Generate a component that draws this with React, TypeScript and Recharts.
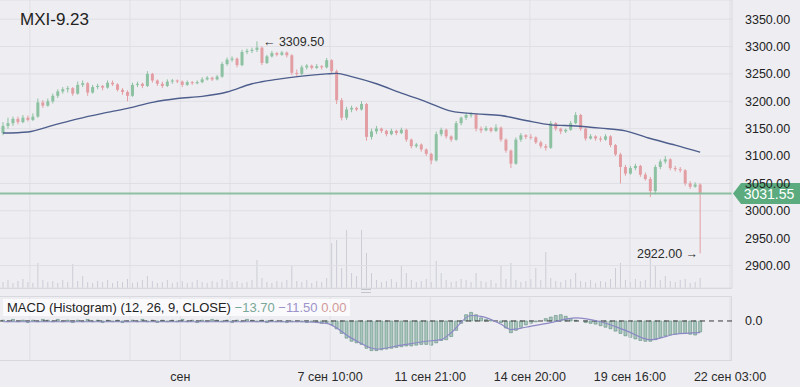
import {
  Bar,
  CartesianGrid,
  ComposedChart,
  Line,
  ReferenceDot,
  ReferenceLine,
  XAxis,
  YAxis,
} from "recharts";

const instrument = "MXI-9.23";

// open, high, low, close per candle
const ohlc: [number, number, number, number][] = [
  [3142, 3162, 3138, 3155], [3155, 3170, 3150, 3160], [3160, 3172, 3155, 3168], [3168, 3172, 3158, 3162], [3162, 3175, 3160, 3170],
  [3170, 3174, 3163, 3166], [3166, 3178, 3164, 3172], [3172, 3205, 3170, 3198], [3198, 3202, 3188, 3192], [3192, 3205, 3190, 3200],
  [3200, 3214, 3196, 3210], [3210, 3222, 3206, 3218], [3218, 3226, 3214, 3222], [3222, 3228, 3216, 3224], [3224, 3226, 3210, 3214],
  [3214, 3236, 3212, 3230], [3230, 3238, 3226, 3233], [3233, 3235, 3210, 3216], [3216, 3230, 3214, 3226], [3226, 3232, 3222, 3228],
  [3228, 3230, 3220, 3225], [3225, 3238, 3223, 3234], [3234, 3238, 3228, 3231], [3231, 3233, 3218, 3221], [3221, 3224, 3212, 3217],
  [3217, 3220, 3200, 3210], [3210, 3234, 3208, 3230], [3230, 3236, 3226, 3232], [3232, 3234, 3224, 3228], [3228, 3255, 3226, 3250],
  [3250, 3252, 3234, 3238], [3238, 3240, 3228, 3232], [3232, 3236, 3224, 3228], [3228, 3240, 3226, 3236], [3236, 3241, 3232, 3238],
  [3238, 3240, 3233, 3236], [3236, 3238, 3226, 3230], [3230, 3238, 3228, 3235], [3235, 3237, 3230, 3233], [3233, 3238, 3231, 3235],
  [3235, 3244, 3233, 3240], [3240, 3246, 3238, 3243], [3243, 3245, 3237, 3240], [3240, 3248, 3238, 3245], [3245, 3272, 3243, 3268],
  [3268, 3280, 3265, 3276], [3276, 3282, 3272, 3278], [3278, 3280, 3262, 3266], [3266, 3294, 3264, 3290], [3290, 3296, 3286, 3292],
  [3292, 3298, 3288, 3294], [3294, 3309.5, 3290, 3298], [3298, 3300, 3266, 3270], [3270, 3285, 3268, 3282], [3282, 3292, 3280, 3288],
  [3288, 3290, 3282, 3285], [3285, 3292, 3283, 3289], [3289, 3291, 3280, 3284], [3284, 3286, 3248, 3252], [3252, 3258, 3246, 3250],
  [3250, 3266, 3248, 3262], [3262, 3268, 3258, 3265], [3265, 3267, 3258, 3261], [3261, 3268, 3259, 3264], [3264, 3266, 3258, 3262],
  [3262, 3279, 3260, 3275], [3275, 3277, 3250, 3255], [3255, 3258, 3195, 3202], [3202, 3206, 3165, 3170], [3170, 3190, 3166, 3185],
  [3185, 3192, 3180, 3188], [3188, 3190, 3182, 3185], [3185, 3200, 3183, 3195], [3195, 3197, 3128, 3135], [3135, 3150, 3130, 3145],
  [3145, 3155, 3140, 3150], [3150, 3152, 3142, 3146], [3146, 3148, 3136, 3140], [3140, 3150, 3138, 3146], [3146, 3148, 3138, 3142],
  [3142, 3152, 3140, 3148], [3148, 3150, 3126, 3130], [3130, 3132, 3114, 3118], [3118, 3124, 3115, 3121], [3121, 3123, 3108, 3112],
  [3112, 3114, 3100, 3104], [3104, 3106, 3085, 3092], [3092, 3145, 3090, 3140], [3140, 3152, 3136, 3148], [3148, 3150, 3132, 3136],
  [3136, 3138, 3126, 3130], [3130, 3164, 3128, 3160], [3160, 3172, 3156, 3170], [3170, 3178, 3166, 3175], [3175, 3180, 3170, 3176],
  [3176, 3178, 3145, 3150], [3150, 3154, 3142, 3147], [3147, 3155, 3145, 3151], [3151, 3153, 3143, 3146], [3146, 3158, 3144, 3152],
  [3152, 3154, 3126, 3130], [3130, 3132, 3106, 3110], [3110, 3112, 3078, 3086], [3086, 3134, 3084, 3130], [3130, 3142, 3126, 3138],
  [3138, 3140, 3131, 3135], [3135, 3140, 3130, 3134], [3134, 3136, 3122, 3125], [3125, 3128, 3114, 3118], [3118, 3122, 3110, 3115],
  [3115, 3164, 3113, 3160], [3160, 3162, 3146, 3150], [3150, 3152, 3140, 3145], [3145, 3150, 3142, 3148], [3148, 3164, 3146, 3160],
  [3160, 3180, 3158, 3175], [3175, 3177, 3146, 3150], [3150, 3152, 3128, 3132], [3132, 3140, 3130, 3136], [3136, 3138, 3128, 3132],
  [3132, 3136, 3126, 3130], [3130, 3140, 3128, 3136], [3136, 3138, 3116, 3120], [3120, 3122, 3100, 3103], [3103, 3106, 3050, 3080],
  [3080, 3084, 3064, 3068], [3068, 3082, 3066, 3078], [3078, 3086, 3074, 3082], [3082, 3084, 3062, 3066], [3066, 3070, 3055, 3058],
  [3058, 3062, 3025, 3036], [3036, 3084, 3030, 3080], [3080, 3094, 3076, 3090], [3090, 3100, 3086, 3094], [3094, 3096, 3074, 3078],
  [3078, 3082, 3072, 3076], [3076, 3080, 3070, 3074], [3074, 3076, 3046, 3050], [3050, 3054, 3040, 3044], [3044, 3052, 3042, 3048],
  [3048, 3050, 2922, 3031.55],
];

const volumes = [
  6, 8, 5, 7, 9, 6, 5, 25, 8, 6, 7, 5, 8, 6, 24, 7, 12, 6, 5, 7,
  6, 8, 5, 7, 6, 9, 5, 6, 8, 12, 7, 5, 6, 8, 5, 6, 7, 5, 6, 8,
  6, 5, 7, 6, 9, 8, 6, 7, 5, 6, 8, 28, 10, 6, 5, 7, 6, 8, 22, 7,
  6, 8, 5, 7, 6, 10, 45, 48, 20, 58, 15, 12, 58, 35, 15, 8, 6, 7, 9, 6,
  22, 15, 8, 6, 7, 9, 6, 27, 15, 8, 6, 7, 9, 8, 6, 15, 7, 6, 8, 5,
  22, 9, 25, 8, 6, 7, 9, 20, 8, 36, 10, 7, 6, 8, 9, 15, 7, 6, 8, 5,
  7, 6, 9, 20, 25, 8, 6, 9, 7, 8, 32, 22, 8, 12, 7, 6, 8, 9, 5, 6,
  10,
];

// moving average, read at every few candles: [candle, value]
const maPoints: [number, number][] = [
  [0, 3142], [5, 3144], [10, 3156], [15, 3168], [20, 3178], [25, 3187], [30, 3198], [35, 3205],
  [40, 3209], [45, 3217], [50, 3232], [55, 3240], [60, 3246], [65, 3250], [67, 3251], [70, 3245],
  [75, 3232], [80, 3215], [85, 3199], [90, 3182], [95, 3177], [100, 3174], [105, 3165], [110, 3157],
  [115, 3155], [120, 3151], [125, 3146], [130, 3132], [135, 3120], [140, 3107],
];

const macdHist = [
  1, -1, 2, -1, 1, -2, 1, -1, 2, 1, -1, 2, -1, 1, -2, 1, -1, 2, -1, 1,
  -2, 1, -1, 1, -2, -1, 1, -1, 2, -1, 1, -2, 1, -1, 1, -1, 2, -1, 1, -2,
  1, -1, 2, 1, -1, 1, -2, 1, -1, 2, 1, -1, 1, -2, 1, -1, -1, -2, -1, -1,
  -1, -2, -1, -2, -3, -2, -5, -10, -16, -22, -26, -28, -30, -35, -38, -38, -37, -36, -35, -34,
  -33, -32, -32, -31, -30, -30, -31, -28, -25, -24, -20, -12, -3, 8, 11, 8, 4, 2, 1, 0,
  -2, -9, -15, -12, -8, -5, -3, -1, 0, 3, 5, 7, 8, 6, 3, 1, 0, -2, -3, -4,
  -6, -8, -10, -13, -16, -19, -21, -23, -25, -26, -26, -24, -21, -19, -18, -17, -16, -16, -17, -18,
  -14,
];

const signalPoints: [number, number][] = [
  [0, -1], [10, -1], [20, -1], [30, -1], [40, -1], [50, -1], [60, -1], [65, -3], [70, -22],
  [75, -36], [80, -31], [85, -26], [88, -24], [90, -15], [94, 7], [96, 6], [100, -4], [102, -11],
  [105, -8], [110, -2], [115, 4], [120, -1], [125, -12], [130, -24], [135, -17], [140, -15],
];

const priceTicks = [2900, 2950, 3000, 3050, 3100, 3150, 3200, 3250, 3300, 3350];
const lastPrice = 3031.55;
const highMark = { index: 51, value: 3309.5 };
const lowMark = { index: 140, value: 2922 };
const gridTimes = [5.4, 25.5, 35.6, 45.6, 65.7, 85.8, 105.8, 125.9, 146];
const labelTimes = [35.6, 65.7, 85.8, 105.8, 125.9, 146];
const timeLabels = ["сен", "7 сен 10:00", "11 сен 21:00", "14 сен 20:00", "19 сен 16:00", "22 сен 03:00"];
const macdLegend = ["−13.70", "−11.50", "0.00"];

const X_DOMAIN: [number, number] = [-0.6, 146.4];
const PRICE_DOMAIN: [number, number] = [2859, 3385];
const MACD_DOMAIN: [number, number] = [-50, 32];

const BG = "#eeeef2";
const GRID = "#dedee5";
const UP = "#8cc1a1";
const DOWN = "#e39ea4";
const FONT = "'Liberation Sans', Arial, sans-serif";

const rows = ohlc.map(([open, high, low, close], i) => ({
  i,
  open,
  high,
  low,
  close,
  range: [low, high],
  volume: volumes[i],
  macd: macdHist[i],
}));
const maRows = maPoints.map(([i, ma]) => ({ i, ma }));
const signalRows = signalPoints.map(([i, signal]) => ({ i, signal }));

function Candle(props: any) {
  const { x, y, width, height, payload } = props;
  const { open, high, low, close } = payload;
  const k = height / (high - low || 1);
  const cx = x + width / 2;
  const yo = y + (high - open) * k;
  const yc = y + (high - close) * k;
  const color = close >= open ? UP : DOWN;
  return (
    <g>
      <line x1={cx} x2={cx} y1={y} y2={y + height} stroke={color} strokeWidth={1} />
      <rect x={x} y={Math.min(yo, yc)} width={width} height={Math.max(1, Math.abs(yc - yo))} fill={color} />
    </g>
  );
}

function PriceBadge(props: any) {
  const vb = props.viewBox || {};
  const left = (vb.x || 0) + (vb.width || 0) + 1;
  const cy = vb.y || 0;
  const pts = `${left},${cy} ${left + 8},${cy - 10.5} 800,${cy - 10.5} 800,${cy + 10.5} ${left + 8},${cy + 10.5}`;
  return (
    <g>
      <polygon points={pts} fill="#5bab7f" />
      <text x={left + 36} y={cy + 5} textAnchor="middle" fill="#fff" fontSize={14} fontFamily={FONT}>
        {lastPrice.toFixed(2)}
      </text>
    </g>
  );
}

function MarkLabel(props: any) {
  const { cx, cy, side, text } = props;
  return (
    <text
      x={side === "right" ? cx + 6 : cx - 2}
      y={cy + 4.5}
      textAnchor={side === "right" ? "start" : "end"}
      fill="#2b2b2b"
      fontSize={12.5}
      fontFamily={FONT}
    >
      {text}
    </text>
  );
}

export default function App() {
  return (
    <div style={{ position: "fixed", left: 0, top: 0, width: 800, height: 387, background: BG, overflow: "hidden", fontFamily: FONT }}>
      {/* volume layer, under the candles */}
      <div style={{ position: "absolute", left: 0, top: 0 }}>
        <ComposedChart width={800} height={288} data={rows} margin={{ top: 0, right: 68, left: 0, bottom: 0 }}>
          <XAxis dataKey="i" type="number" domain={X_DOMAIN} hide allowDataOverflow />
          <YAxis yAxisId="vol" domain={[0, 288]} hide />
          {gridTimes.map((t) => (
            <ReferenceLine key={t} yAxisId="vol" x={t} stroke={GRID} strokeWidth={1} />
          ))}
          <Bar yAxisId="vol" dataKey="volume" fill="#cbccd5" barSize={1} isAnimationActive={false} />
        </ComposedChart>
      </div>
      <div style={{ position: "absolute", left: 0, top: 0, width: 732, height: 288, borderBottom: "1px solid #d8d8df" }} />

      {/* price layer */}
      <div style={{ position: "absolute", left: 0, top: 0 }}>
        <ComposedChart width={800} height={288} data={rows} margin={{ top: 0, right: 0, left: 0, bottom: 0 }}>
          <CartesianGrid yAxisId="price" vertical={false} stroke={GRID} />
          <XAxis dataKey="i" type="number" domain={X_DOMAIN} hide allowDataOverflow />
          <YAxis
            yAxisId="price"
            orientation="right"
            width={68}
            domain={PRICE_DOMAIN}
            ticks={priceTicks}
            allowDataOverflow
            tickFormatter={(v) => Number(v).toFixed(2)}
            tick={{ fill: "#222", fontSize: 12.5, fontFamily: FONT, dx: 5 }}
            axisLine={{ stroke: "#d8d8df" }}
            tickLine={false}
          />
          <Bar
            yAxisId="price"
            dataKey="range"
            barSize={3}
            shape={<Candle />}
            isAnimationActive={false}
          />
          <Line
            yAxisId="price"
            data={maRows}
            type="monotone"
            dataKey="ma"
            stroke="#4d5d8c"
            strokeWidth={1.4}
            dot={false}
            activeDot={false}
            isAnimationActive={false}
          />
          <ReferenceLine
            yAxisId="price"
            y={lastPrice}
            stroke="#8dbfa2"
            strokeWidth={2}
            label={<PriceBadge />}
          />
          <ReferenceDot
            yAxisId="price"
            x={highMark.index}
            y={highMark.value}
            r={0}
            shape={(p: any) => <MarkLabel {...p} side="right" text={`← ${highMark.value.toFixed(2)}`} />}
          />
          <ReferenceDot
            yAxisId="price"
            x={lowMark.index}
            y={lowMark.value}
            r={0}
            shape={(p: any) => <MarkLabel {...p} side="left" text={`${lowMark.value.toFixed(2)} →`} />}
          />
        </ComposedChart>
      </div>

      <div style={{ position: "absolute", left: 361, top: 289, width: 10, height: 2, borderTop: "1px solid #c4c4cc", borderBottom: "1px solid #c4c4cc" }} />

      <div style={{ position: "absolute", left: 20, top: 10, fontSize: 17, color: "#222" }}>{instrument}</div>

      {/* MACD panel */}
      <div style={{ position: "absolute", left: 0, top: 296, width: 731, height: 63, border: "1px solid #d8d8df", borderLeft: "none" }} />
      <div style={{ position: "absolute", left: 0, top: 294 }}>
        <ComposedChart width={800} height={93} data={rows} margin={{ top: 2, right: 0, left: 0, bottom: 0 }}>
          <XAxis
            dataKey="i"
            type="number"
            domain={X_DOMAIN}
            allowDataOverflow
            ticks={labelTimes}
            tickFormatter={(v) => timeLabels[labelTimes.indexOf(v)] ?? ""}
            height={27}
            axisLine={false}
            tickLine={false}
            tick={{ fill: "#2b2b2b", fontSize: 12.5, fontFamily: FONT, dy: 4 }}
            interval={0}
          />
          <YAxis
            orientation="right"
            width={68}
            domain={MACD_DOMAIN}
            ticks={[0]}
            allowDataOverflow
            tickFormatter={(v) => Number(v).toFixed(1)}
            tick={{ fill: "#222", fontSize: 12.5, fontFamily: FONT, dx: 5 }}
            axisLine={false}
            tickLine={false}
          />
          {gridTimes.map((t) => (
            <ReferenceLine key={t} x={t} stroke={GRID} strokeWidth={1} />
          ))}
          <ReferenceLine y={0} stroke="#3a3a3a" strokeDasharray="5 4" />
          <Bar dataKey="macd" barSize={3} fill="#a8c6bc" stroke="#628c80" strokeWidth={0.6} isAnimationActive={false} />
          <Line
            data={signalRows}
            type="monotone"
            dataKey="signal"
            stroke="#8c88c6"
            strokeWidth={1.2}
            dot={false}
            activeDot={false}
            isAnimationActive={false}
          />
        </ComposedChart>
      </div>
      <div
        style={{
          position: "absolute",
          left: 3,
          top: 299,
          padding: "0 4px",
          fontSize: 13,
          lineHeight: "17px",
          color: "#222",
          background: "rgba(255,255,255,0.72)",
          whiteSpace: "nowrap",
        }}
      >
        MACD (Histogram) (12, 26, 9, CLOSE){" "}
        <span style={{ color: "#7aa898" }}>{macdLegend[0]}</span>{" "}
        <span style={{ color: "#9d93cb" }}>{macdLegend[1]}</span>{" "}
        <span style={{ color: "#d19a9a" }}>{macdLegend[2]}</span>
      </div>
    </div>
  );
}
